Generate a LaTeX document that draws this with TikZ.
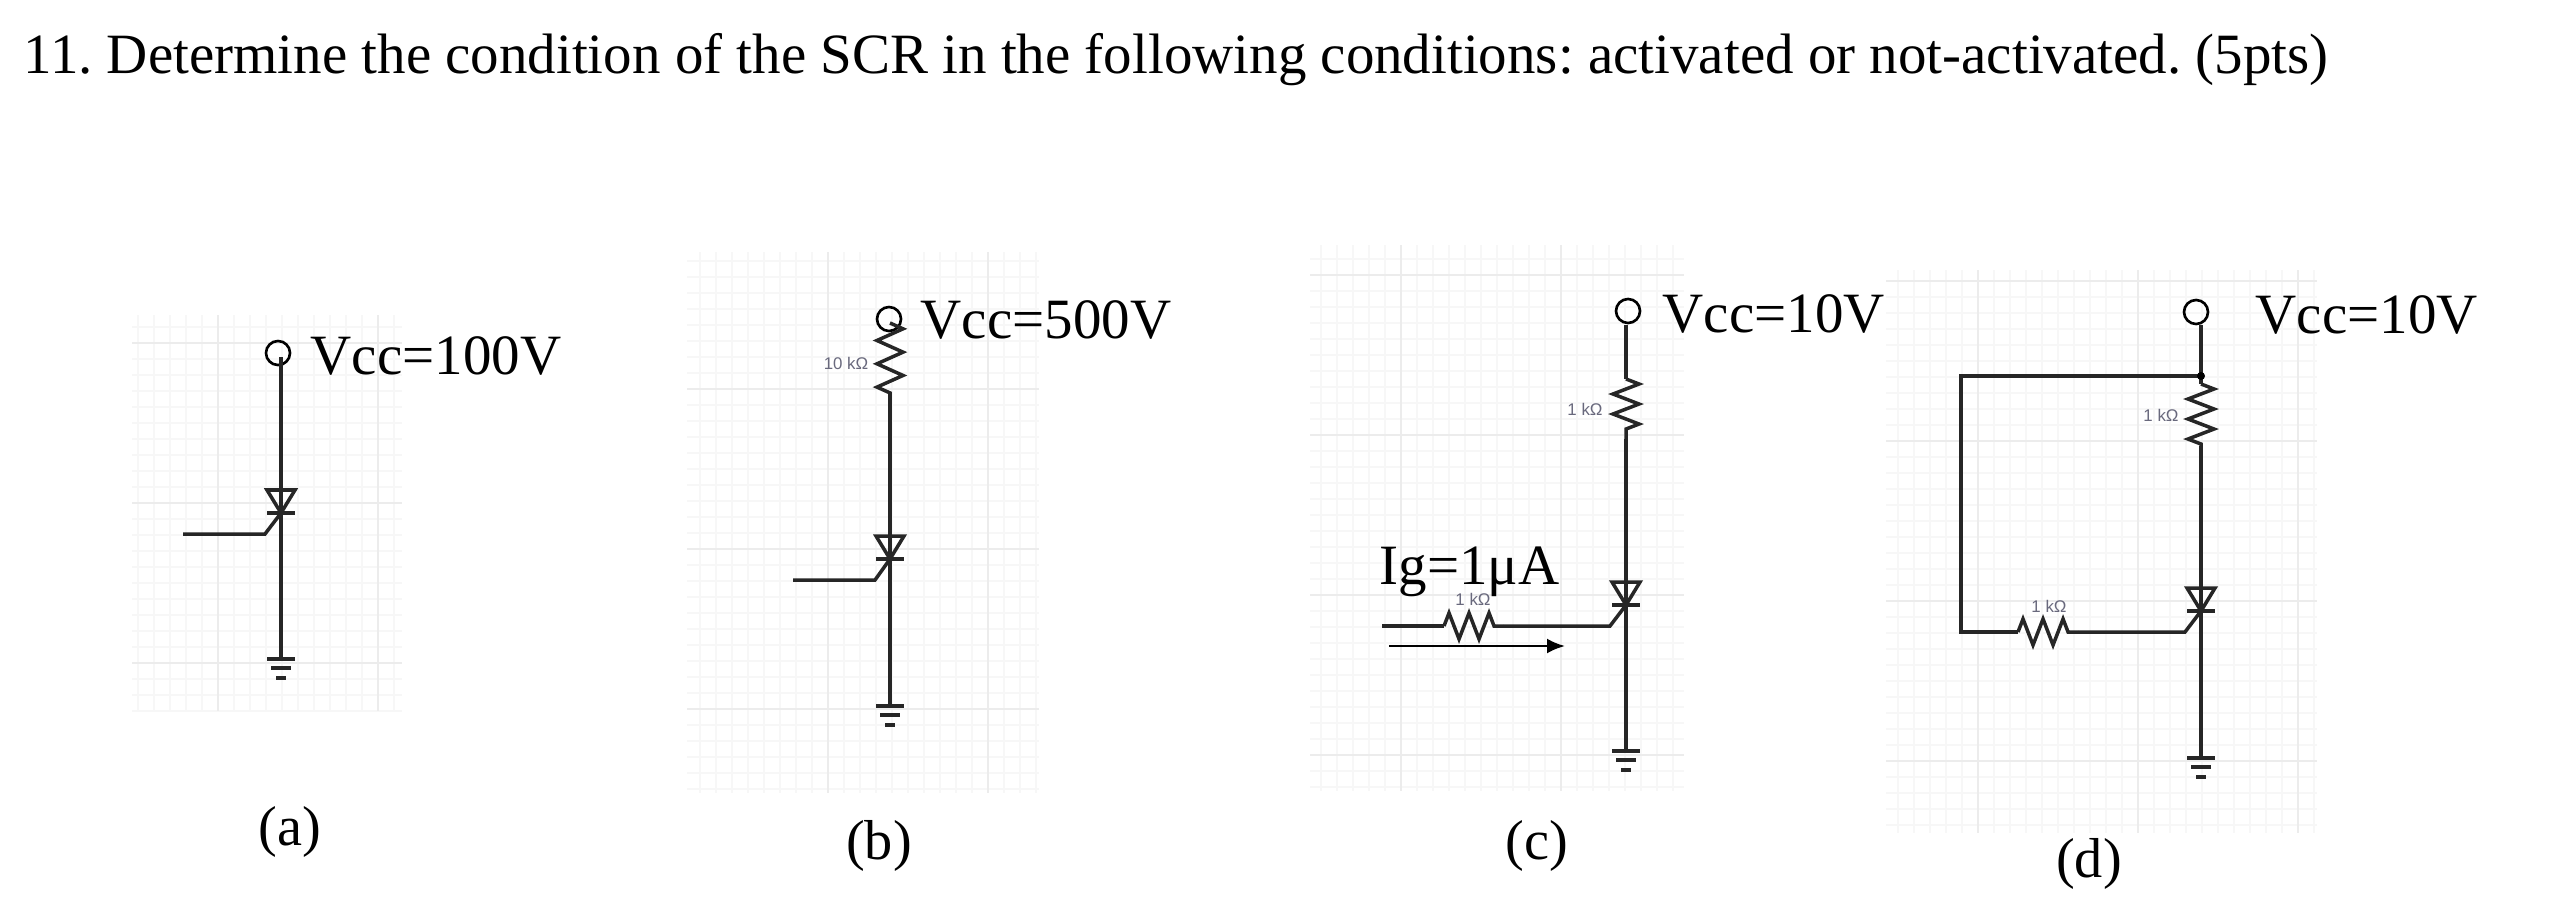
\documentclass[tikz,border=0pt]{standalone}
\usepackage{fontspec}
\usepackage{tikz}
\usetikzlibrary{calc,arrows.meta,decorations.pathmorphing}
\setmainfont{Liberation Serif}
\newfontfamily\valuefont{Liberation Sans}
\definecolor{minorgrid}{RGB}{247,247,247}
\definecolor{majorgrid}{RGB}{236,236,236}
\definecolor{valuegray}{RGB}{105,105,125}
\tikzset{
  wire/.style={line width=1pt, line join=miter, color=black!85},
  zig/.style={wire, decorate, decoration={zigzag, segment length=0.2cm, amplitude=0.13cm}},
  terminal/.style={draw, circle, line width=0.75pt, minimum size=0.24cm, inner sep=0pt},
  voltage/.style={anchor=base west, inner sep=0pt, font=\fontsize{16.2}{18}\selectfont},
  caption/.style={anchor=base, inner sep=0pt, font=\fontsize{16}{18}\selectfont},
  value/.style={inner sep=0pt, text=valuegray, font=\valuefont\fontsize{4.8}{6}\selectfont},
  pics/scr/.style={code={%
    \draw[wire] (-14,0) -- (14,0);
    \draw[wire] (-14,-23) -- (14,-23) -- (0,0) -- cycle;
  }},
  pics/gnd/.style={code={%
    \draw[wire] (-14,0) -- (14,0);
    \draw[wire] (-10,9) -- (10,9);
    \draw[wire] (-5,19) -- (5,19);
  }},
}
% #1,#2 to #3,#4 = sheet, #5,#6 = one major crossing
\newcommand{\panelgrid}[6]{%
  \begin{scope}
    \clip (#1,#2) rectangle (#3,#4);
    \foreach \k in {-40,...,40}{%
      \draw[minorgrid, line width=0.6pt] ({#5+\k*16},#2) -- ({#5+\k*16},#4);
      \draw[minorgrid, line width=0.6pt] (#1,{#6+\k*16}) -- (#3,{#6+\k*16});
    }
    \foreach \k in {-4,...,4}{%
      \draw[majorgrid, line width=0.7pt] ({#5+\k*160},#2) -- ({#5+\k*160},#4);
      \draw[majorgrid, line width=0.7pt] (#1,{#6+\k*160}) -- (#3,{#6+\k*160});
    }
  \end{scope}
}
\frenchspacing
\begin{document}
\begin{tikzpicture}[x=0.01cm, y=-0.01cm]
    \useasboundingbox (0,0) rectangle (2552,918);

    \node[anchor=base west, inner sep=0pt, font=\fontsize{16.2}{20}\selectfont] (Title) at (23,73)
      {11. Determine the condition of the SCR in the following conditions: activated or not-activated. (5pts)};

    \panelgrid{132}{315}{402}{711}{218}{503}
    \panelgrid{687}{252}{1039}{793}{828}{549}
    \panelgrid{1310}{245}{1684}{791}{1401}{435}
    \panelgrid{1886}{270}{2317}{833}{1978}{441}

    % panel a
    \coordinate (TopA) at (281,357);
    \coordinate (KathA) at (281,513);
    \coordinate (BendA) at (265,534);
    \coordinate (GateA) at (183,534);
    \coordinate (GndA) at (281,659);
    \node[terminal] (VccA) at (278,353) {};
    \node[voltage] (LabelA) at (310,374) {Vcc=100V};
    \draw[wire] (TopA) -- (GndA);
    \draw[wire] (GateA) -- (BendA) -- (KathA);
    \pic at (KathA) {scr};
    \pic at (GndA) {gnd};
    \node[caption] (CapA) at (290,845) {(a)};

    % panel b
    \coordinate (TopB) at (890,323);
    \coordinate (ResB) at (890,393);
    \coordinate (KathB) at (890,559);
    \coordinate (BendB) at (875,580);
    \coordinate (GateB) at (793,580);
    \coordinate (GndB) at (890,706);
    \node[terminal] (VccB) at (889,319) {};
    \node[voltage] (LabelB) at (920,338) {Vcc=500V};
    \node[value] (ValB) at (846,363) {10 kΩ};
    \draw[zig, decoration={segment length=0.233cm}] (TopB) -- (ResB);
    \draw[wire] (ResB) -- (GndB);
    \draw[wire] (GateB) -- (BendB) -- (KathB);
    \pic at (KathB) {scr};
    \pic at (GndB) {gnd};
    \node[caption] (CapB) at (879,859) {(b)};

    % panel c
    \coordinate (TopC) at (1626,325);
    \coordinate (ResTopC) at (1626,379);
    \coordinate (ResBotC) at (1626,439);
    \coordinate (KathC) at (1626,605);
    \coordinate (BendC) at (1610,626);
    \coordinate (ResInC) at (1444,626);
    \coordinate (ResOutC) at (1503,626);
    \coordinate (GateC) at (1382,626);
    \coordinate (GndC) at (1626,751);
    \coordinate (ArrowFrom) at (1389,646);
    \coordinate (ArrowTo) at (1565,646);
    \node[terminal] (VccC) at (1628,311) {};
    \node[voltage] (LabelC) at (1662,332) {Vcc=10V};
    \node[voltage] (LabelIg) at (1379,584) {Ig=1μA};
    \node[value] (ValC) at (1585,409) {1 kΩ};
    \node[value] (ValGateC) at (1473,599) {1 kΩ};
    \draw[wire] (TopC) -- (ResTopC);
    \draw[zig] (ResTopC) -- (ResBotC);
    \draw[wire] (ResBotC) -- (GndC);
    \draw[wire] (GateC) -- (ResInC);
    \draw[zig] (ResInC) -- (ResOutC);
    \draw[wire] (ResOutC) -- (BendC) -- (KathC);
    \draw[line width=0.75pt, -{Latex[length=0.18cm,width=0.15cm]}] (ArrowFrom) -- (ArrowTo);
    \pic at (KathC) {scr};
    \pic at (GndC) {gnd};
    \node[caption] (CapC) at (1537,859) {(c)};

    % panel d
    \coordinate (TopD) at (2201,325);
    \coordinate (JoinD) at (2201,376);
    \coordinate (ResTopD) at (2201,384);
    \coordinate (ResBotD) at (2201,446);
    \coordinate (KathD) at (2201,611);
    \coordinate (BendD) at (2185,632);
    \coordinate (ResOutD) at (2078,632);
    \coordinate (ResInD) at (2018,632);
    \coordinate (CornerLow) at (1961,632);
    \coordinate (CornerUp) at (1961,376);
    \coordinate (GndD) at (2201,758);
    \node[terminal] (VccD) at (2196,312) {};
    \node[voltage] (LabelD) at (2255,333) {Vcc=10V};
    \node[value] (ValD) at (2161,415) {1 kΩ};
    \node[value] (ValGateD) at (2049,606) {1 kΩ};
    \draw[wire] (TopD) -- (ResTopD);
    \draw[zig] (ResTopD) -- (ResBotD);
    \draw[wire] (ResBotD) -- (GndD);
    \draw[wire] (JoinD) -- (CornerUp) -- (CornerLow) -- (ResInD);
    \draw[zig] (ResInD) -- (ResOutD);
    \draw[wire] (ResOutD) -- (BendD) -- (KathD);
    \fill (JoinD) circle (4);
    \pic at (KathD) {scr};
    \pic at (GndD) {gnd};
    \node[caption] (CapD) at (2089,877) {(d)};
\end{tikzpicture}
\end{document}
